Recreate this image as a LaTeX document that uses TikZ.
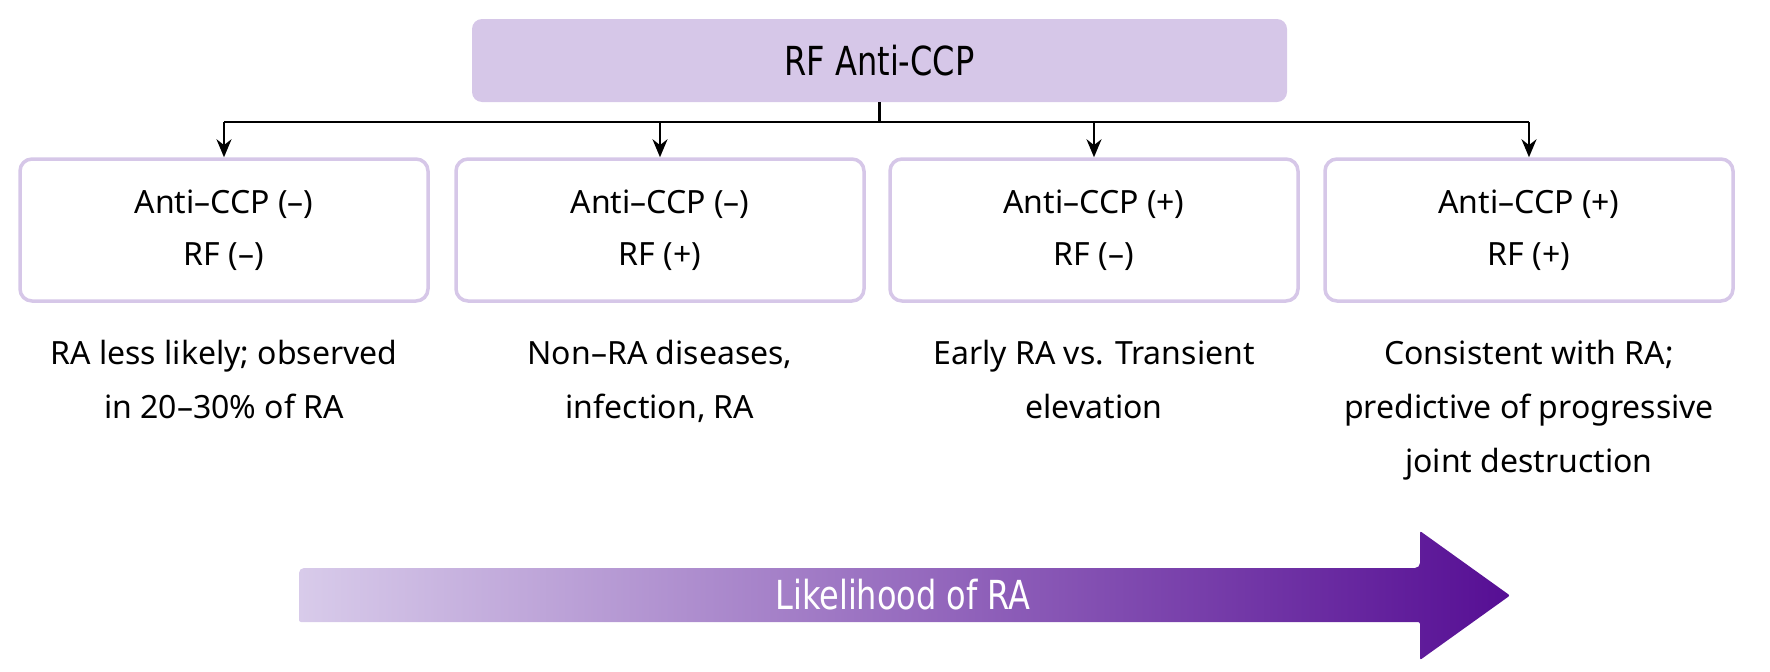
\documentclass[tikz,border=0pt]{standalone}
\usepackage{fontspec}
\setmainfont{Noto Sans}
\newfontfamily\condfont{DejaVu Sans}[FakeStretch=0.8]
\usetikzlibrary{arrows.meta}
\definecolor{lav}{RGB}{214,199,232}
\definecolor{lavlight}{RGB}{216,203,234}
\definecolor{deep}{RGB}{86,14,148}
\begin{document}
\begin{tikzpicture}[x=1pt,y=-1pt,
  catbox/.style={draw=lav, line width=3.5pt, rounded corners=12pt, minimum width=408pt, minimum height=142pt, fill=white},
  boxtext/.style={font=\fontsize{32}{52}\selectfont, align=center, text=black},
  desc/.style={font=\fontsize{32}{54}\selectfont, align=center, text=black, anchor=north, inner sep=0pt},
  linkline/.style={draw=black, line width=2.2pt},
  conn/.style={draw=black, line width=2.2pt, -{Stealth[length=18pt,width=15pt]}}]
\useasboundingbox (0,0) rectangle (1770,672);

\node[fill=lav, rounded corners=10pt, minimum width=815pt, minimum height=83pt,
      font=\condfont\fontsize{40}{48}\selectfont] (top) at (879.5,60.5) {RF Anti-CCP};

\node[catbox, boxtext] (b1) at (224,230)  {Anti–CCP (–)\\RF (–)};
\node[catbox, boxtext] (b2) at (660,230)  {Anti–CCP (–)\\RF (+)};
\node[catbox, boxtext] (b3) at (1094,230) {Anti–CCP (+)\\RF (–)};
\node[catbox, boxtext] (b4) at (1529,230) {Anti–CCP (+)\\RF (+)};

\node[desc] (d1) at (224,340)  {RA less likely; observed\\in 20–30\% of RA};
\node[desc] (d2) at (660,340)  {Non–RA diseases,\\infection, RA};
\node[desc] (d3) at (1094,340) {Early RA vs. Transient\\elevation};
\node[desc] (d4) at (1529,340) {Consistent with RA;\\predictive of progressive\\joint destruction};

\coordinate (hub) at (879.5,122);
\draw[linkline] (top.south) -- (hub);
\draw[linkline] (b1.north |- hub) -- (b4.north |- hub);
\foreach \b in {b1,b2,b3,b4}
  \draw[conn] (\b.north |- hub) -- (\b.north);

\shade[left color=lavlight, right color=deep]
  [rounded corners=5pt] (299,622) -- (299,568) -- (1420,568)
  [rounded corners=2pt] -- (1420,531) -- (1510,595.5) -- (1420,660) -- (1420,622) -- cycle;
\node[font=\condfont\fontsize{40}{48}\selectfont, text=white] (lik) at (903,595) {Likelihood of RA};
\end{tikzpicture}
\end{document}
